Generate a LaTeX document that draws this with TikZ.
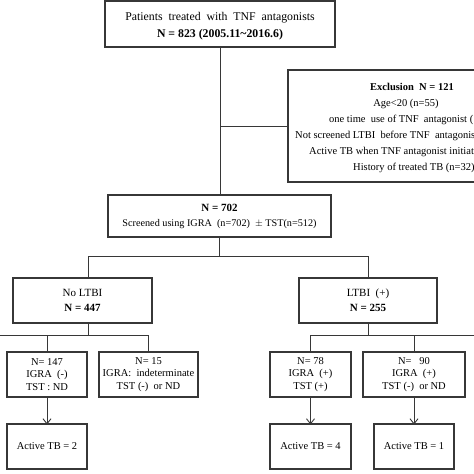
\documentclass[tikz,border=0pt]{standalone}
\usepackage{fontspec}
\setmainfont{Liberation Serif}
\usetikzlibrary{positioning,arrows.meta}
\definecolor{LineGray}{RGB}{55,55,55}
\tikzset{
  box/.style={draw=LineGray,line width=1.1pt,fill=white,inner sep=0pt,align=center,
    font=\fontsize{11.8}{17}\selectfont},
  midbox/.style={box,font=\fontsize{11}{15}\selectfont},
  smallbox/.style={box,font=\fontsize{10.5}{12.5}\selectfont},
  exline/.style={anchor=base west,inner sep=0pt,font=\fontsize{10.5}{12.5}\selectfont},
  link/.style={draw=LineGray,line width=0.9pt},
  arrow/.style={link,-{Straight Barb[length=5pt,width=8pt]}},
}
\begin{document}
\begin{tikzpicture}[x=1pt,y=-1pt]
\useasboundingbox (0,0) rectangle (474,474);
\fill[white] (0,0) rectangle (474,474);
% boxes
\node[box,minimum width=230pt,minimum height=46pt] (top) at (220,24)
  {\rule{0pt}{12pt}Patients~ treated~ with~ TNF~ antagonists\\ \textbf{N = 823 (2005.11\textasciitilde2016.6)}};
\node[box,minimum width=252pt,minimum height=112pt] (excl) at (414,126) {};
\node[midbox,minimum width=223pt,minimum height=42pt] (scr) at (219.5,216)
  {\textbf{N = 702}\\ \fontsize{10.2}{12}\selectfont Screened using IGRA~ (n=702)~ $\pm$ TST(n=512)};
\node[midbox,minimum width=139pt,minimum height=45pt] (noltbi) at (82.5,300.5)
  {No LTBI\\ \textbf{N = 447}};
\node[midbox,minimum width=138pt,minimum height=45pt] (ltbi) at (368,300.5)
  {LTBI~ (+)\\ \textbf{N = 255}};
\node[smallbox,minimum width=80pt,minimum height=45pt] (igraneg) at (47,374.5)
  {N= 147\\ IGRA~ (-)\\ TST : ND};
\node[smallbox,minimum width=99pt,minimum height=45pt] (indet) at (148.5,374.5)
  {N= 15\\ IGRA:~ indeterminate\\ TST (-)~ or ND};
\node[smallbox,minimum width=81pt,minimum height=45pt] (bothpos) at (310.5,374.5)
  {N= 78\\ IGRA~ (+)\\ TST (+)};
\node[smallbox,minimum width=102pt,minimum height=45pt] (igrapos) at (414,374.5)
  {N=~~ 90\\ IGRA~ (+)\\ TST (-)~ or ND};
\node[smallbox,minimum width=80pt,minimum height=45pt] (tbA) at (47,446.5) {Active TB = 2};
\node[smallbox,minimum width=81pt,minimum height=45pt] (tbB) at (310.5,446.5) {Active TB = 4};
\node[smallbox,minimum width=80pt,minimum height=45pt] (tbC) at (414,446.5) {Active TB = 1};
% exclusion text
\node[anchor=base,inner sep=0pt,font=\fontsize{10.5}{12.5}\selectfont\bfseries] (exhead) at (412,90) {Exclusion~ N = 121};
\node[anchor=base,inner sep=0pt,font=\fontsize{10.5}{12.5}\selectfont] (exage) at (406,106) {Age<20 (n=55)};
\node[exline] (exonce) at (329,122) {one time~ use of TNF~ antagonist (};
\node[exline] (exnotscr) at (295,138) {Not screened LTBI~ before TNF~ antagonist};
\node[exline] (exactive) at (309,154) {Active TB when TNF antagonist initiation};
\node[exline] (exhist) at (353,170) {History of treated TB (n=32)};
% connectors
\coordinate (jL) at (88,256);
\coordinate (jR) at (368,256);
\coordinate (kL) at (88,335);
\coordinate (kLend) at (0,335);
\coordinate (kR) at (368,335);
\coordinate (kRend) at (474,335);
\draw[link] (top.south) -- (top.south |- scr.north);
\draw[link] (top.south |- excl.west) -- (excl.west);
\draw[link] (scr.south) -- (scr.south |- jL);
\draw[link] (jL) -- (jR);
\draw[link] (jL) -- (jL |- noltbi.north);
\draw[link] (jR) -- (jR |- ltbi.north);
\draw[link] (kL |- noltbi.south) -- (kL);
\draw[link] (kLend) -- (kLend -| indet.north);
\draw[link] (igraneg.north |- kL) -- (igraneg.north);
\draw[link] (indet.north |- kL) -- (indet.north);
\draw[link] (kR |- ltbi.south) -- (kR);
\draw[link] (bothpos.north |- kR) -- (kRend);
\draw[link] (bothpos.north |- kR) -- (bothpos.north);
\draw[link] (igrapos.north |- kR) -- (igrapos.north);
\draw[arrow] (igraneg.south) -- ([yshift=-1pt]tbA.north);
\draw[arrow] (bothpos.south) -- ([yshift=-1pt]tbB.north);
\draw[arrow] (igrapos.south) -- ([yshift=-1pt]tbC.north);
\end{tikzpicture}
\end{document}
